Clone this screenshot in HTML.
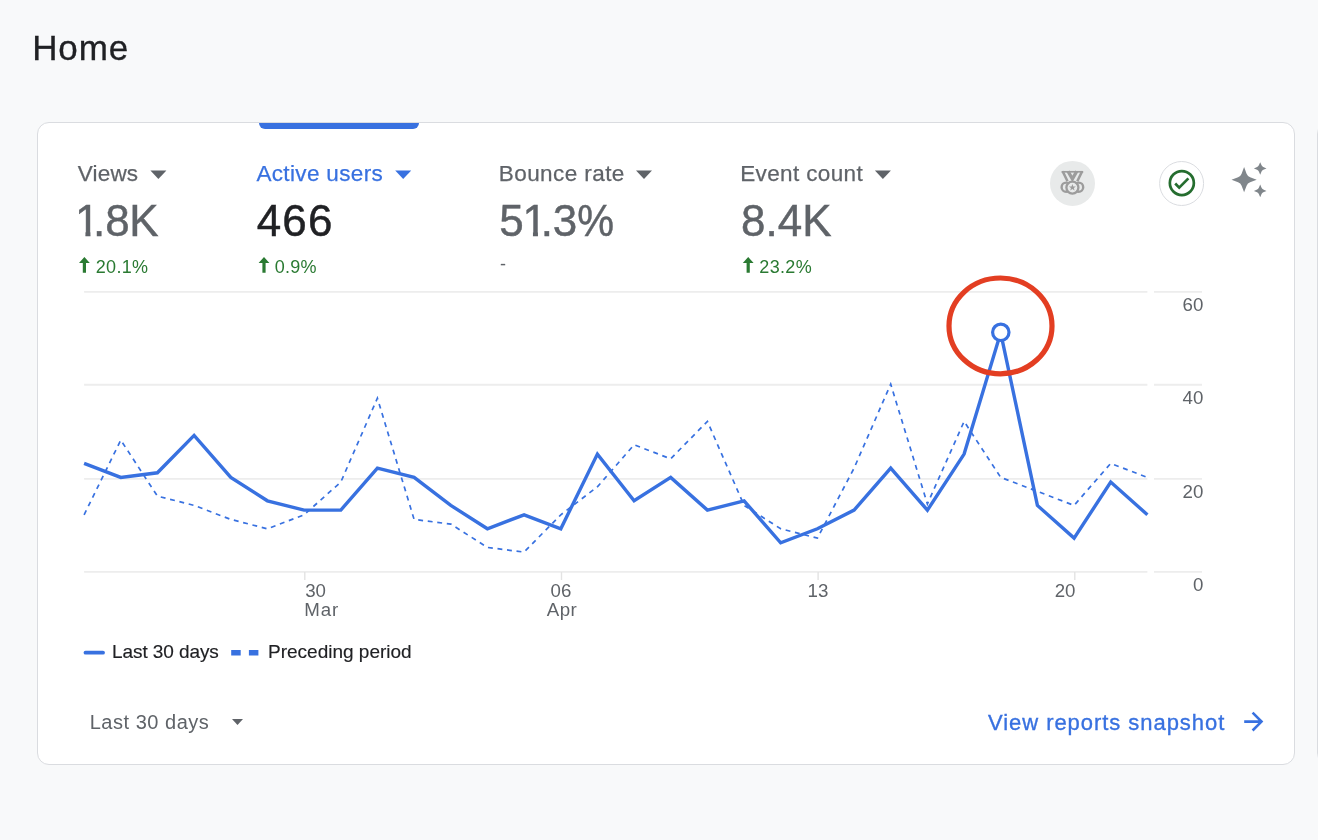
<!DOCTYPE html>
<html lang="en">
<head>
<meta charset="utf-8">
<title>Home</title>
<style>
html,body{margin:0;padding:0;}
body{width:1318px;height:840px;overflow:hidden;background:#f8f9fa;font-family:"Liberation Sans",sans-serif;position:relative;}
.layer{position:absolute;left:0;top:0;width:1318px;height:840px;will-change:transform;}
.t{position:absolute;white-space:nowrap;line-height:1;margin:0;font-weight:400;}
h1.t{font-size:35px;color:#202124;left:32.2px;top:30.2px;letter-spacing:.85px;-webkit-text-stroke:.3px #202124;}
.card{position:absolute;left:37px;top:122px;width:1256px;height:641px;background:#fff;border:1px solid #dadce0;border-radius:12px;}
.next{position:absolute;left:1317px;top:122px;width:40px;height:641px;background:#fff;border:1px solid #dadce0;border-radius:12px;}
.tab{position:absolute;left:259px;top:123px;width:160px;height:6px;background:#3871e0;border-radius:0 0 6px 6px;}
.lbl{font-size:22.5px;color:#5f6368;top:162.9px;-webkit-text-stroke:.25px;}
.val{font-size:44px;color:#5f6368;top:198.5px;-webkit-text-stroke:.45px;}
.one{display:inline-block;clip-path:polygon(0 0,100% 0,100% 33.4px,15.5px 33.4px,15.5px 100%,10.5px 100%,10.5px 33.4px,0 33.4px);}
.dlt{font-size:18px;color:#2a7a32;top:258px;}
.sel{color:#3871e0;}
.dark{color:#202124;}
svg{position:absolute;left:0;top:0;will-change:transform;}
svg text{font-family:"Liberation Sans",sans-serif;}
.leg{font-size:19px;color:#202124;top:642px;-webkit-text-stroke:.15px;}
.foot{font-size:20px;color:#5f6368;top:712px;left:89.7px;letter-spacing:.52px;}
.link{font-size:22px;color:#3871e0;top:711.6px;left:988px;letter-spacing:.95px;-webkit-text-stroke:.35px #3871e0;}
</style>
</head>
<body>
<div class="card"></div>
<div class="next"></div>
<div class="tab"></div>
<div class="layer">
<h1 class="t">Home</h1>

<div class="t lbl" style="left:77.8px;letter-spacing:.17px">Views</div>
<div class="t val" style="left:74.95px"><span class="one" style="margin-right:-6.33px">1</span><span style="letter-spacing:-.05px">.</span><span style="letter-spacing:-.62px">8</span>K</div>
<div class="t dlt" style="left:95.7px;letter-spacing:.35px">20.1%</div>

<div class="t lbl sel" style="left:256.4px;letter-spacing:.35px">Active users</div>
<div class="t val dark" style="left:256.7px;letter-spacing:1.15px">466</div>
<div class="t dlt" style="left:274.8px;letter-spacing:.25px">0.9%</div>

<div class="t lbl" style="left:498.8px;letter-spacing:.42px">Bounce rate</div>
<div class="t val" style="left:499.3px"><span style="letter-spacing:-1.33px">5</span><span class="one" style="margin-right:-6.13px">1</span><span style="letter-spacing:-.37px">.</span><span style="letter-spacing:-1.43px">3</span><span style="display:inline-block;transform:scaleX(.94);transform-origin:50% 50%">%</span></div>
<div class="t dlt" style="left:500px;top:254.5px;color:#5f6368">-</div>

<div class="t lbl" style="left:740.2px;letter-spacing:.37px">Event count</div>
<div class="t val" style="left:741px">8.4K</div>
<div class="t dlt" style="left:759.3px;letter-spacing:.35px">23.2%</div>

<div class="t leg" style="left:112px;letter-spacing:-.08px">Last 30 days</div>
<div class="t leg" style="left:268px">Preceding period</div>
<div class="t foot">Last 30 days</div>
<div class="t link">View reports snapshot</div>
</div>

<svg width="1318" height="840" viewBox="0 0 1318 840">
  <!-- dropdown carets -->
  <path d="M150.4 170.6 h16.0 l-8.0 8.4 z" fill="#5f6368"/><path d="M395.2 170.6 h16.0 l-8.0 8.4 z" fill="#3871e0"/><path d="M636.0 170.6 h16.0 l-8.0 8.4 z" fill="#5f6368"/><path d="M874.9 170.6 h16.0 l-8.0 8.4 z" fill="#5f6368"/>
  <!-- delta arrows -->
  <path d="M84.4 257 L89.8 263 L86.0 263 L86.0 272.7 L82.8 272.7 L82.8 263 L79.0 263 Z" fill="#2a7a32"/><path d="M264.0 257 L269.4 263 L265.6 263 L265.6 272.7 L262.4 272.7 L262.4 263 L258.6 263 Z" fill="#2a7a32"/><path d="M748.2 257 L753.6 263 L749.8 263 L749.8 272.7 L746.6 272.7 L746.6 263 L742.8 263 Z" fill="#2a7a32"/>
  <!-- grid -->
  <g stroke="#ededed" stroke-width="1.9" fill="none"><line x1="84.1" y1="291.9" x2="1147.4" y2="291.9"/><line x1="1154" y1="291.9" x2="1202" y2="291.9"/><line x1="84.1" y1="384.8" x2="1147.4" y2="384.8"/><line x1="1154" y1="384.8" x2="1202" y2="384.8"/><line x1="84.1" y1="478.9" x2="1147.4" y2="478.9"/><line x1="1154" y1="478.9" x2="1202" y2="478.9"/><line x1="84.1" y1="571.9" x2="1147.4" y2="571.9"/><line x1="1154" y1="571.9" x2="1202" y2="571.9"/></g>
  <g stroke="#e3e3e3" stroke-width="1.4" fill="none"><line x1="304.8" y1="572" x2="304.8" y2="580"/><line x1="561.5" y1="572" x2="561.5" y2="580"/><line x1="818.1" y1="572" x2="818.1" y2="580"/><line x1="1074.8" y1="572" x2="1074.8" y2="580"/></g>
  <g font-size="18.7" fill="#5f6368"><text x="1203.3" y="310.8" text-anchor="end">60</text><text x="1203.3" y="403.7" text-anchor="end">40</text><text x="1203.3" y="497.8" text-anchor="end">20</text><text x="1203.3" y="590.8" text-anchor="end">0</text>
    <text x="305.2" y="596.6">30</text><text x="304.3" y="616" letter-spacing=".9">Mar</text>
    <text x="561" y="596.6" text-anchor="middle">06</text><text x="562" y="616" text-anchor="middle" letter-spacing=".45">Apr</text>
    <text x="818" y="596.6" text-anchor="middle">13</text>
    <text x="1075.5" y="596.6" text-anchor="end">20</text>
  </g>
  <!-- series -->
  <polyline points="84.1,514.8 120.8,440.1 157.4,496.1 194.1,505.4 230.8,519.4 267.4,528.8 304.1,514.8 340.8,482.1 377.4,398.1 414.1,519.4 450.8,524.1 487.4,547.4 524.1,552.1 560.8,514.8 597.4,486.8 634.1,444.8 670.7,458.8 707.4,421.4 744.1,505.4 780.7,528.8 817.4,538.1 854.1,468.1 890.7,384.1 927.4,504.0 964.1,421.4 1000.7,477.4 1037.4,491.4 1074.1,505.4 1110.7,463.4 1147.4,477.4" fill="none" stroke="#3871e0" stroke-width="1.7" stroke-dasharray="4.9 4.7"/>
  <polyline points="84.1,463.4 120.8,477.4 157.4,472.8 194.1,435.4 230.8,477.4 267.4,500.8 304.1,510.1 340.8,510.1 377.4,468.1 414.1,477.4 450.8,505.4 487.4,528.8 524.1,514.8 560.8,528.8 597.4,454.1 634.1,500.8 670.7,477.4 707.4,510.1 744.1,500.8 780.7,542.8 817.4,528.8 854.1,510.1 890.7,468.1 927.4,510.1 964.1,454.1 1000.7,332.8 1037.4,505.4 1074.1,538.1 1110.7,482.1 1147.4,514.8" fill="none" stroke="#3871e0" stroke-width="3.4" stroke-linejoin="miter"/>
  <circle cx="1000.8" cy="332.3" r="8.2" fill="#fff" stroke="#3871e0" stroke-width="3.2"/>
  <ellipse cx="1000.5" cy="325.9" rx="51.5" ry="47.9" fill="none" stroke="#e33e22" stroke-width="5.2"/>
  <!-- legend swatches -->
  <line x1="85.5" y1="652.7" x2="103" y2="652.7" stroke="#3871e0" stroke-width="3.8" stroke-linecap="round"/>
  <rect x="231.2" y="650" width="9.5" height="5.5" fill="#3871e0"/><rect x="248.9" y="650" width="9.5" height="5.5" fill="#3871e0"/>
  <!-- footer caret + arrow -->
  <path d="M232.0 719.0 h11.0 l-5.5 5.9 z" fill="#5f6368"/>
  <path d="M1244.2 721.6 H1261 M1252.6 712.7 L1261.5 721.6 L1252.6 730.5" fill="none" stroke="#3871e0" stroke-width="2.6"/>
  <!-- medal -->
  <circle cx="1072.5" cy="183.4" r="22.5" fill="#e8eaea"/>
  <g fill="none" stroke="#9c9c9c" stroke-linejoin="miter">
    <path d="M1061.6 171.8 H1083.2" stroke-width="1.7"/>
    <path d="M1062.7 171.4 L1067.5 181.2 M1082.1 171.4 L1077.3 181.2" stroke-width="2.5"/>
    <path d="M1068.1 171.4 L1072.4 179 L1076.7 171.4" stroke-width="3.3"/>
    <circle cx="1066.2" cy="187.2" r="4.6" stroke-width="2.4"/><circle cx="1078.6" cy="187.2" r="4.6" stroke-width="2.4"/>
    <circle cx="1072.4" cy="187.6" r="6" fill="#e8eaea" stroke-width="2.3"/>
  </g>
  <path d="M1072.40 183.90 L1073.28 186.39 L1075.92 186.46 L1073.83 188.06 L1074.57 190.59 L1072.40 189.10 L1070.23 190.59 L1070.97 188.06 L1068.88 186.46 L1071.52 186.39Z" fill="#9c9c9c"/>
  <!-- check -->
  <circle cx="1181.6" cy="183.5" r="22" fill="#fff" stroke="#dadce0" stroke-width="1"/>
  <circle cx="1181.85" cy="183.05" r="12" fill="none" stroke="#256d2f" stroke-width="2.7"/>
  <path d="M1175.2 183.5 L1179.2 187.6 L1188.4 178.4" fill="none" stroke="#256d2f" stroke-width="2.7"/>
  <!-- sparkle -->
  <path fill="#80868b" d="M1244.10 167.10 L1246.59 173.68 Q1247.56 176.23 1250.12 177.21 L1256.70 179.70 L1250.12 182.19 Q1247.56 183.16 1246.59 185.72 L1244.10 192.30 L1241.61 185.72 Q1240.63 183.16 1238.08 182.19 L1231.50 179.70 L1238.08 177.21 Q1240.63 176.23 1241.61 173.68 L1244.10 167.10 Z M1260.20 162.15 L1261.56 165.33 Q1262.09 166.56 1263.32 167.09 L1266.50 168.45 L1263.32 169.81 Q1262.09 170.34 1261.56 171.57 L1260.20 174.75 L1258.84 171.57 Q1258.31 170.34 1257.08 169.81 L1253.90 168.45 L1257.08 167.09 Q1258.31 166.56 1258.84 165.33 L1260.20 162.15 Z M1260.20 184.60 L1261.56 187.78 Q1262.09 189.01 1263.32 189.54 L1266.50 190.90 L1263.32 192.26 Q1262.09 192.79 1261.56 194.02 L1260.20 197.20 L1258.84 194.02 Q1258.31 192.79 1257.08 192.26 L1253.90 190.90 L1257.08 189.54 Q1258.31 189.01 1258.84 187.78 L1260.20 184.60 Z"/>
</svg>
</body>
</html>
